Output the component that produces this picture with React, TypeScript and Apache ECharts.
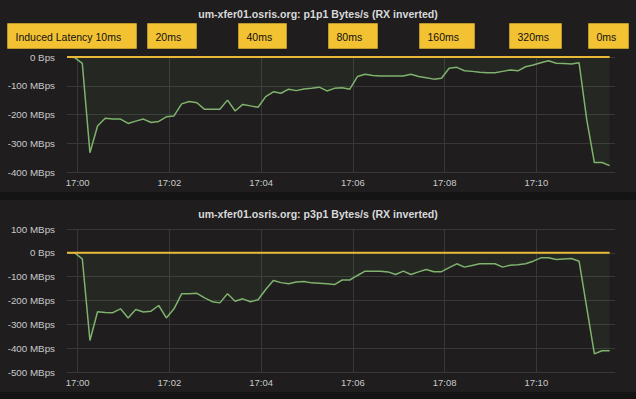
import React, { useEffect, useRef } from "react";
import * as echarts from "echarts";

// Seconds relative to 17:00:00 of the first sample, 10 s sampling
const START_SEC = -14;
const STEP_SEC = 10;

const titles = [
  "um-xfer01.osris.org: p1p1 Bytes/s (RX inverted)",
  "um-xfer01.osris.org: p3p1 Bytes/s (RX inverted)",
];

const annotationLabels = ["Induced Latency 10ms", "20ms", "40ms", "80ms", "160ms", "320ms", "0ms"];

const xTickValues = [0, 120, 240, 360, 480, 600];
const xTickLabels = ["17:00", "17:02", "17:04", "17:06", "17:08", "17:10"];

// MBps, RX inverted (negative)
const p1p1Rx = [
  0, -2, -22, -333, -240, -213, -216, -216, -231, -223,
  -216, -228, -224, -208, -205, -163, -155, -159, -182, -182,
  -182, -150, -188, -165, -170, -175, -138, -121, -126, -112,
  -117, -111, -109, -105, -118, -109, -107, -112, -68, -60,
  -64, -66, -66, -66, -66, -60, -68, -72, -77, -74,
  -39, -36, -48, -50, -53, -55, -55, -50, -45, -48,
  -34, -28, -20, -13, -22, -23, -24, -20, -218, -367,
  -367, -378,
];
const p1p1Tx = [
  0, 0, 0, 0, 0, 0, 0, 0, 0, 0, 0, 0, 0, 0, 0, 0, 0, 0, 0, 0,
  0, 0, 0, 0, 0, 0, 0, 0, 0, 0, 0, 0, 0, 0, 0, 0, 0, 0, 0, 0,
  0, 0, 0, 0, 0, 0, 0, 0, 0, 0, 0, 0, 0, 0, 0, 0, 0, 0, 0, 0,
  0, 0, 0, 0, 0, 0, 0, 0, 0, 0, 0, 0,
];

const p3p1Rx = [
  0, 0, -25, -368, -247, -250, -251, -235, -273, -238,
  -248, -245, -221, -273, -235, -172, -172, -170, -189, -205,
  -210, -172, -203, -193, -205, -197, -154, -116, -125, -130,
  -122, -120, -126, -128, -130, -133, -114, -114, -95, -77,
  -77, -77, -80, -91, -77, -91, -80, -70, -79, -79,
  -62, -46, -60, -53, -46, -46, -46, -60, -52, -50,
  -46, -35, -21, -21, -28, -26, -24, -35, -230, -424,
  -411, -411,
];
const p3p1Tx = [
  0, 0, 0, 0, 0, 0, 0, 0, 0, 0, 0, 0, 0, 0, 0, 0, 0, 0, 0, 0,
  0, 0, 0, 0, 0, 0, 0, 0, 0, 0, 0, 0, 0, 0, 0, 0, 0, 0, 0, 0,
  0, 0, 0, 0, 0, 0, 0, 0, 0, 0, 0, 0, 0, 0, 0, 0, 0, 0, 0, 0,
  0, 0, 0, 0, 0, 0, 0, 0, 0, 0, 0, 0,
];

const W = 636;
const H = 399;
const FONT = "'Liberation Sans', Arial, Helvetica, sans-serif";
const GREEN = "#7eb26d";
const YELLOW = "#eab839";
const GRIDC = "#383838";
const TEXTC = "#c8c9ca";

const toPairs = (vals: number[]) => vals.map((v, i) => [START_SEC + i * STEP_SEC, v]);

const xFmt = (v: number) => {
  const i = xTickValues.indexOf(Math.round(v));
  return i >= 0 ? xTickLabels[i] : "";
};
const yFmt = (v: number) => (v === 0 ? "0 Bps" : `${v} MBps`);

// layout of the annotation boxes: [left, width]
const annotationBoxes: [number, number][] = [
  [7, 130], [147, 50], [238, 49], [328, 50], [419, 56], [509, 53], [588, 41],
];

export default function App() {
  const ref = useRef<HTMLDivElement>(null);
  useEffect(() => {
    if (!ref.current) return;
    const chart = echarts.init(ref.current, undefined, { renderer: "svg", width: W, height: H });

    const xAxisBase = (gridIndex: number) => ({
      type: "value" as const,
      gridIndex,
      min: -14,
      max: 703,
      axisLine: { show: false },
      axisTick: { show: false, customValues: xTickValues },
      axisLabel: {
        customValues: xTickValues,
        formatter: xFmt,
        color: TEXTC,
        fontSize: 9.5,
        fontFamily: FONT,
        margin: 5,
      },
      splitLine: { show: true, lineStyle: { color: GRIDC, width: 1 } },
    });
    const yAxisBase = (gridIndex: number, min: number, max: number) => ({
      type: "value" as const,
      gridIndex,
      min,
      max,
      interval: 100,
      axisLine: { show: false },
      axisTick: { show: true, length: 5, lineStyle: { color: GRIDC } },
      axisLabel: {
        formatter: yFmt,
        color: TEXTC,
        fontSize: 9.8,
        fontFamily: FONT,
        margin: 12,
      },
      splitLine: { show: true, lineStyle: { color: GRIDC, width: 1 } },
    });

    const rxSeries = (idx: number, data: number[], name: string) => ({
      type: "line" as const,
      name,
      xAxisIndex: idx,
      yAxisIndex: idx,
      data: toPairs(data),
      showSymbol: false,
      symbol: "none",
      lineStyle: { color: GREEN, width: 1.5 },
      itemStyle: { color: GREEN },
      areaStyle: { color: "rgba(126,178,109,0.1)", origin: 0 },
      z: 2,
    });
    const txSeries = (idx: number, data: number[], name: string) => ({
      type: "line" as const,
      name,
      xAxisIndex: idx,
      yAxisIndex: idx,
      data: toPairs(data),
      showSymbol: false,
      symbol: "none",
      lineStyle: { color: YELLOW, width: 2 },
      itemStyle: { color: YELLOW },
      z: 3,
    });

    const graphics: any[] = [
      { type: "rect", shape: { x: 0, y: 192, width: W, height: 8 }, style: { fill: "#141414" } },
      { type: "rect", shape: { x: 0, y: 392, width: W, height: 7 }, style: { fill: "#141414" } },
      {
        type: "text", x: 318, y: 14,
        style: { text: titles[0], fill: "#d8d9da", font: `bold 10.6px ${FONT}`, align: "center", verticalAlign: "middle" },
      },
      {
        type: "text", x: 318, y: 214,
        style: { text: titles[1], fill: "#d8d9da", font: `bold 10.6px ${FONT}`, align: "center", verticalAlign: "middle" },
      },
    ];
    annotationLabels.forEach((label, i) => {
      const [left, width] = annotationBoxes[i];
      graphics.push({
        type: "rect",
        shape: { x: left, y: 23, width, height: 26 },
        style: { fill: "#f3c233", stroke: "#1a1a1a", lineWidth: 0.5 },
      });
      graphics.push({
        type: "text",
        x: left + 8.5,
        y: 37,
        style: { text: label, fill: "#111", font: `10.5px ${FONT}`, align: "left", verticalAlign: "middle" },
      });
    });

    chart.setOption({
      animation: false,
      backgroundColor: "#1f1d1d",
      grid: [
        { left: 67, right: 21, top: 57, height: 115, outerBoundsMode: "none" },
        { left: 67, right: 21, top: 229, height: 143, outerBoundsMode: "none" },
      ],
      xAxis: [xAxisBase(0), xAxisBase(1)],
      yAxis: [yAxisBase(0, -400, 0), yAxisBase(1, -500, 100)],
      series: [
        rxSeries(0, p1p1Rx, "p1p1 RX"),
        txSeries(0, p1p1Tx, "p1p1 TX"),
        rxSeries(1, p3p1Rx, "p3p1 RX"),
        txSeries(1, p3p1Tx, "p3p1 TX"),
      ],
      graphic: graphics,
    });
    return () => chart.dispose();
  }, []);
  return (
    <div style={{ position: "fixed", left: 0, top: 0, width: W, height: H, background: "#141414" }}>
      <div ref={ref} style={{ width: W, height: H }} />
    </div>
  );
}
